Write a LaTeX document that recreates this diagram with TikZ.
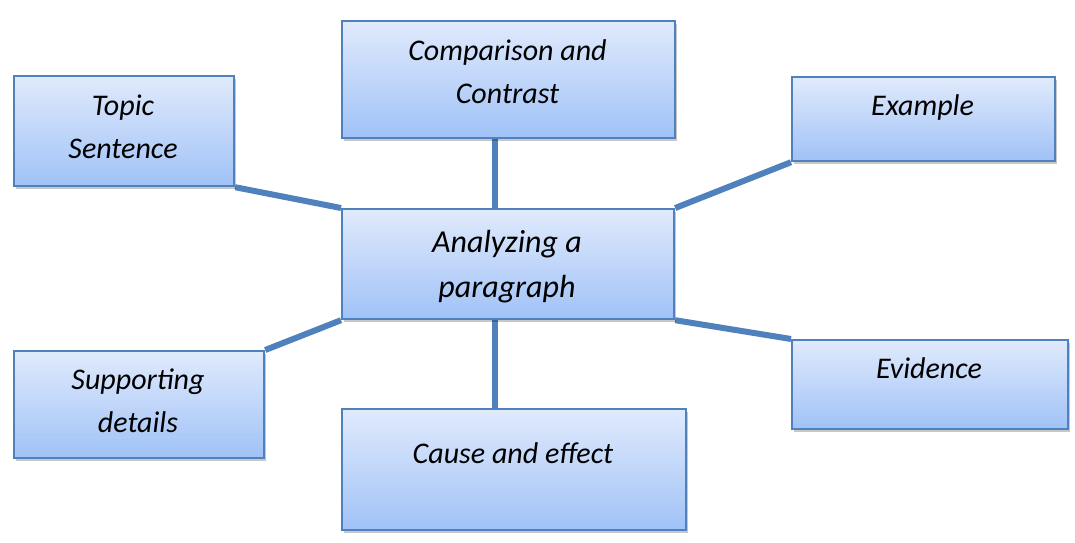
\documentclass[tikz,border=0pt]{standalone}
\usepackage{fontspec}
\setmainfont{Carlito}
\usetikzlibrary{backgrounds,shadows,calc}
\definecolor{boxtop}{RGB}{224,234,252}
\definecolor{boxbot}{RGB}{160,194,247}
\definecolor{boxedge}{RGB}{79,129,189}
\tikzset{
  x=1pt, y=-1pt,
  box/.style={draw=boxedge, line width=2.2pt, rectangle, inner sep=0pt,
    top color=boxtop, bottom color=boxbot, anchor=north west,
    drop shadow={shadow xshift=2pt, shadow yshift=-3pt, fill=black, opacity=0.22}},
  txt/.style={inner sep=0pt, align=center, anchor=north,
    font=\fontsize{30}{43}\selectfont\itshape},
  bigtxt/.style={txt, font=\fontsize{32}{45}\selectfont\itshape},
  link/.style={draw=boxedge, line width=6pt},
}
\newcommand{\bx}[5]{% name, left, top, right, bottom
  \path (#2,#3) coordinate (#1-nw);
  \node[box, minimum width={(#4-#2)*1pt}, minimum height={(#5-#3)*1pt}] (#1) at (#1-nw) {};
}
\begin{document}
\begin{tikzpicture}
\useasboundingbox (0,0) rectangle (1075,542);
\begin{scope}[on background layer]
\fill[white] (0,0) rectangle (1075,542);
\end{scope}
% boxes: name, left, top, right, bottom
\bx{topic}{13}{75}{233}{185}
\bx{comp}{341}{20}{674}{137}
\bx{example}{791}{76}{1054}{160}
\bx{center}{341}{208}{673}{318}
\bx{support}{13}{350}{263}{457}
\bx{cause}{341}{408}{685}{529}
\bx{evidence}{791}{339}{1067}{428}
% texts
\node[txt] (topicT) at (123,85) {\strut Topic\\\strut Sentence};
\node[txt] (compT) at (507.5,30) {\strut Comparison and\\\strut Contrast};
\node[txt] (exampleT) at (922.5,85) {\strut Example};
\node[bigtxt] (centerT) at (507,220.5) {\strut Analyzing a\\\strut paragraph};
\node[txt] (supportT) at (138,359) {\strut Supporting\\\strut details};
\node[txt] (causeT) at (513,433) {\strut Cause and effect};
\node[txt] (evidenceT) at (929,348) {\strut Evidence};
% connectors
\coordinate (vx) at (495,0);
\begin{scope}[on background layer]
\draw[link] (topic.south east) -- (center.north west);
\draw[link] (comp.south -| vx) -- (center.north -| vx);
\draw[link] (example.south west) -- (center.north east);
\draw[link] (support.north east) -- (center.south west);
\draw[link] (center.south -| vx) -- (cause.north -| vx);
\draw[link] (center.south east) -- (evidence.north west);
\end{scope}
\end{tikzpicture}
\end{document}
